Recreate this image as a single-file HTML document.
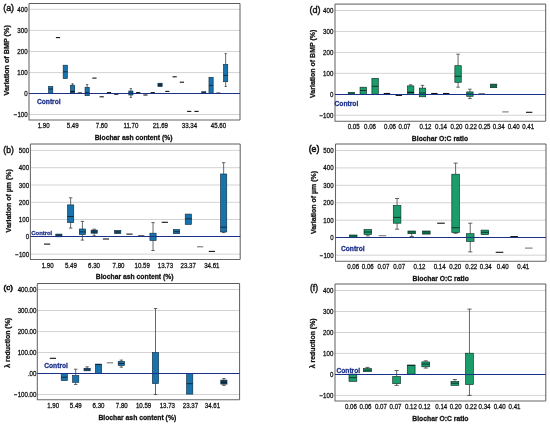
<!DOCTYPE html>
<html lang="en">
<head>
<meta charset="utf-8">
<title>Biochar box plots</title>
<style>
html,body{margin:0;padding:0;background:#fff;}
body{width:550px;height:425px;overflow:hidden;}
svg{display:block;font-family:"Liberation Sans", Arial, sans-serif;}
svg text{stroke-width:0.26px;paint-order:stroke fill;}
svg text.k{stroke:#111;}
svg text.c{stroke:#1b3089;}
</style>
</head>
<body>
<svg width="550" height="425" viewBox="0 0 550 425">
<rect x="0" y="0" width="550" height="425" fill="#fff"/>
<rect x="29" y="3.5" width="211" height="116.5" fill="#fff"/>
<line x1="29" y1="9.3" x2="240" y2="9.3" stroke="#c4c4c4" stroke-width="0.75"/>
<line x1="29" y1="30.4" x2="240" y2="30.4" stroke="#c4c4c4" stroke-width="0.75"/>
<line x1="29" y1="51.5" x2="240" y2="51.5" stroke="#c4c4c4" stroke-width="0.75"/>
<line x1="29" y1="72.6" x2="240" y2="72.6" stroke="#c4c4c4" stroke-width="0.75"/>
<line x1="29" y1="114.5" x2="240" y2="114.5" stroke="#c4c4c4" stroke-width="0.75"/>
<path d="M29 3.5H240V120" fill="none" stroke="#4a4a4a" stroke-width="0.9"/>
<path d="M29 3.5V120H240" fill="none" stroke="#666" stroke-width="1.05"/>
<rect x="48.59" y="86.5" width="4.2" height="7" fill="#1873ad" stroke="#0f2e45" stroke-width="0.65"/>
<line x1="48.59" y1="89" x2="52.79" y2="89" stroke="#0c1a22" stroke-width="0.8"/>
<line x1="55.88" y1="37.6" x2="60.08" y2="37.6" stroke="#111" stroke-width="1.1"/>
<rect x="63.17" y="65.2" width="4.2" height="13.3" fill="#1873ad" stroke="#0f2e45" stroke-width="0.65"/>
<line x1="63.17" y1="71.8" x2="67.37" y2="71.8" stroke="#0c1a22" stroke-width="0.8"/>
<path d="M72.56 85.2V83.8M71.41 83.8H73.72" stroke="#2a2a2a" stroke-width="0.7" fill="none"/>
<rect x="70.46" y="85.2" width="4.2" height="7.6" fill="#1873ad" stroke="#0f2e45" stroke-width="0.65"/>
<line x1="70.46" y1="91.6" x2="74.66" y2="91.6" stroke="#0c1a22" stroke-width="1.4"/>
<line x1="77.75" y1="93" x2="81.95" y2="93" stroke="#111" stroke-width="1.2"/>
<path d="M87.14 87.3V84.6M85.98 84.6H88.3" stroke="#2a2a2a" stroke-width="0.7" fill="none"/>
<rect x="85.04" y="87.3" width="4.2" height="8.4" fill="#1873ad" stroke="#0f2e45" stroke-width="0.65"/>
<line x1="85.04" y1="92.6" x2="89.24" y2="92.6" stroke="#0c1a22" stroke-width="0.8"/>
<line x1="92.33" y1="78.1" x2="96.53" y2="78.1" stroke="#111" stroke-width="1.1"/>
<line x1="99.62" y1="96.8" x2="103.82" y2="96.8" stroke="#111" stroke-width="1.1"/>
<line x1="106.91" y1="92.6" x2="111.11" y2="92.6" stroke="#111" stroke-width="1.1"/>
<line x1="114.2" y1="94.2" x2="118.4" y2="94.2" stroke="#111" stroke-width="1.2"/>
<path d="M130.88 91V88.6M129.72 88.6H132.03" stroke="#2a2a2a" stroke-width="0.7" fill="none"/>
<path d="M130.88 95V97.4M129.72 97.4H132.03" stroke="#2a2a2a" stroke-width="0.7" fill="none"/>
<rect x="128.78" y="91" width="4.2" height="4" fill="#1873ad" stroke="#0f2e45" stroke-width="0.65"/>
<line x1="128.78" y1="93" x2="132.98" y2="93" stroke="#0c1a22" stroke-width="0.8"/>
<line x1="136.07" y1="92.6" x2="140.27" y2="92.6" stroke="#111" stroke-width="1.1"/>
<line x1="143.36" y1="95" x2="147.56" y2="95" stroke="#111" stroke-width="1.1"/>
<line x1="150.65" y1="92.6" x2="154.85" y2="92.6" stroke="#111" stroke-width="1.1"/>
<rect x="157.94" y="83.2" width="4.2" height="3.3" fill="#123e5c" stroke="#0f2e45" stroke-width="0.65"/>
<line x1="157.94" y1="85" x2="162.14" y2="85" stroke="#0c1a22" stroke-width="0.8"/>
<line x1="165.23" y1="91.4" x2="169.43" y2="91.4" stroke="#111" stroke-width="1.1"/>
<line x1="172.52" y1="76.8" x2="176.72" y2="76.8" stroke="#111" stroke-width="1.1"/>
<line x1="179.81" y1="82.2" x2="184.01" y2="82.2" stroke="#111" stroke-width="1.1"/>
<line x1="187.1" y1="111.4" x2="191.3" y2="111.4" stroke="#111" stroke-width="1.1"/>
<line x1="194.39" y1="111.4" x2="198.59" y2="111.4" stroke="#111" stroke-width="1.1"/>
<rect x="201.68" y="91.7" width="4.2" height="1.5" fill="#123e5c" stroke="#0f2e45" stroke-width="0.65"/>
<rect x="208.97" y="77.4" width="4.2" height="16.1" fill="#1873ad" stroke="#0f2e45" stroke-width="0.65"/>
<line x1="208.97" y1="85.4" x2="213.17" y2="85.4" stroke="#0c1a22" stroke-width="0.8"/>
<line x1="216.26" y1="92.8" x2="220.46" y2="92.8" stroke="#777" stroke-width="1.1"/>
<path d="M225.65 64.5V53.6M224.5 53.6H226.81" stroke="#2a2a2a" stroke-width="0.7" fill="none"/>
<path d="M225.65 81.7V86.5M224.5 86.5H226.81" stroke="#2a2a2a" stroke-width="0.7" fill="none"/>
<rect x="223.55" y="64.5" width="4.2" height="17.2" fill="#1873ad" stroke="#0f2e45" stroke-width="0.65"/>
<line x1="223.55" y1="75.4" x2="227.75" y2="75.4" stroke="#0c1a22" stroke-width="0.8"/>
<line x1="29" y1="93.5" x2="240" y2="93.5" stroke="#1b3089" stroke-width="1.2"/>
<text x="36.9" y="101.9" font-size="6.7" font-weight="bold" class="c" fill="#1b3089" dominant-baseline="central">Control</text>
<text transform="translate(27.6 9.3) scale(.93 1)" font-size="6.6" text-anchor="end" dominant-baseline="central" class="k" fill="#111">400</text>
<text transform="translate(27.6 30.4) scale(.93 1)" font-size="6.6" text-anchor="end" dominant-baseline="central" class="k" fill="#111">300</text>
<text transform="translate(27.6 51.5) scale(.93 1)" font-size="6.6" text-anchor="end" dominant-baseline="central" class="k" fill="#111">200</text>
<text transform="translate(27.6 72.6) scale(.93 1)" font-size="6.6" text-anchor="end" dominant-baseline="central" class="k" fill="#111">100</text>
<text transform="translate(27.6 93.5) scale(.93 1)" font-size="6.6" text-anchor="end" dominant-baseline="central" class="k" fill="#111">0</text>
<text transform="translate(27.6 114.5) scale(.93 1)" font-size="6.6" text-anchor="end" dominant-baseline="central" class="k" fill="#111">−100</text>
<text transform="translate(43.6 125.7) scale(.93 1)" font-size="6.6" text-anchor="middle" dominant-baseline="central" class="k" fill="#111">1.90</text>
<text transform="translate(72.7 125.7) scale(.93 1)" font-size="6.6" text-anchor="middle" dominant-baseline="central" class="k" fill="#111">5.49</text>
<text transform="translate(101.7 125.7) scale(.93 1)" font-size="6.6" text-anchor="middle" dominant-baseline="central" class="k" fill="#111">7.60</text>
<text transform="translate(130.9 125.7) scale(.93 1)" font-size="6.6" text-anchor="middle" dominant-baseline="central" class="k" fill="#111">11.70</text>
<text transform="translate(160.3 125.7) scale(.93 1)" font-size="6.6" text-anchor="middle" dominant-baseline="central" class="k" fill="#111">21.69</text>
<text transform="translate(189.5 125.7) scale(.93 1)" font-size="6.6" text-anchor="middle" dominant-baseline="central" class="k" fill="#111">33.34</text>
<text transform="translate(218.5 125.7) scale(.93 1)" font-size="6.6" text-anchor="middle" dominant-baseline="central" class="k" fill="#111">45.60</text>
<text x="133.6" y="137.7" font-size="6.8" font-weight="bold" text-anchor="middle" dominant-baseline="central" class="k" fill="#111">Biochar ash content (%)</text>
<text transform="translate(6.2 60.3) rotate(-90)" font-size="7.2" font-weight="bold" text-anchor="middle" dominant-baseline="central" class="k" fill="#111">Variation of BMP (%)</text>
<text x="3.2" y="8.2" font-size="8.9" dominant-baseline="central" class="k" style="stroke-width:0.4px" fill="#111">(a)</text>
<rect x="30.4" y="144" width="209.8" height="115.4" fill="#fff"/>
<line x1="30.4" y1="150.4" x2="240.2" y2="150.4" stroke="#c4c4c4" stroke-width="0.75"/>
<line x1="30.4" y1="167.7" x2="240.2" y2="167.7" stroke="#c4c4c4" stroke-width="0.75"/>
<line x1="30.4" y1="185" x2="240.2" y2="185" stroke="#c4c4c4" stroke-width="0.75"/>
<line x1="30.4" y1="202.3" x2="240.2" y2="202.3" stroke="#c4c4c4" stroke-width="0.75"/>
<line x1="30.4" y1="219.5" x2="240.2" y2="219.5" stroke="#c4c4c4" stroke-width="0.75"/>
<line x1="30.4" y1="254.1" x2="240.2" y2="254.1" stroke="#c4c4c4" stroke-width="0.75"/>
<path d="M30.4 144H240.2V259.4" fill="none" stroke="#4a4a4a" stroke-width="0.9"/>
<path d="M30.4 144V259.4H240.2" fill="none" stroke="#666" stroke-width="1.05"/>
<line x1="44" y1="244.1" x2="50.2" y2="244.1" stroke="#111" stroke-width="1.1"/>
<rect x="55.77" y="234.1" width="6.2" height="2.7" fill="#123e5c" stroke="#0f2e45" stroke-width="0.65"/>
<path d="M70.64 204.9V197.8M68.94 197.8H72.34" stroke="#2a2a2a" stroke-width="0.7" fill="none"/>
<path d="M70.64 222.6V228.1M68.94 228.1H72.34" stroke="#2a2a2a" stroke-width="0.7" fill="none"/>
<rect x="67.54" y="204.9" width="6.2" height="17.7" fill="#1873ad" stroke="#0f2e45" stroke-width="0.65"/>
<line x1="67.54" y1="216.5" x2="73.74" y2="216.5" stroke="#0c1a22" stroke-width="0.8"/>
<path d="M82.41 229V221.4M80.7 221.4H84.11" stroke="#2a2a2a" stroke-width="0.7" fill="none"/>
<path d="M82.41 234.6V240.1M80.7 240.1H84.11" stroke="#2a2a2a" stroke-width="0.7" fill="none"/>
<rect x="79.31" y="229" width="6.2" height="5.6" fill="#1873ad" stroke="#0f2e45" stroke-width="0.65"/>
<line x1="79.31" y1="231.9" x2="85.51" y2="231.9" stroke="#0c1a22" stroke-width="0.8"/>
<path d="M94.18 230.1V229.2M92.48 229.2H95.89" stroke="#2a2a2a" stroke-width="0.7" fill="none"/>
<path d="M94.18 233.2V235.9M92.48 235.9H95.89" stroke="#2a2a2a" stroke-width="0.7" fill="none"/>
<rect x="91.08" y="230.1" width="6.2" height="3.1" fill="#123e5c" stroke="#0f2e45" stroke-width="0.65"/>
<line x1="102.85" y1="239" x2="109.05" y2="239" stroke="#111" stroke-width="1.1"/>
<rect x="114.62" y="230.5" width="6.2" height="3" fill="#123e5c" stroke="#0f2e45" stroke-width="0.65"/>
<line x1="126.39" y1="234.1" x2="132.59" y2="234.1" stroke="#111" stroke-width="1.1"/>
<line x1="138.16" y1="235.9" x2="144.36" y2="235.9" stroke="#111" stroke-width="1.1"/>
<path d="M153.03 233.2V222.6M151.32 222.6H154.74" stroke="#2a2a2a" stroke-width="0.7" fill="none"/>
<path d="M153.03 240.5V250.5M151.32 250.5H154.74" stroke="#2a2a2a" stroke-width="0.7" fill="none"/>
<rect x="149.93" y="233.2" width="6.2" height="7.3" fill="#1873ad" stroke="#0f2e45" stroke-width="0.65"/>
<line x1="161.7" y1="222.3" x2="167.9" y2="222.3" stroke="#111" stroke-width="1.1"/>
<rect x="173.47" y="229.5" width="6.2" height="4.2" fill="#1873ad" stroke="#0f2e45" stroke-width="0.65"/>
<line x1="173.47" y1="231.7" x2="179.67" y2="231.7" stroke="#0c1a22" stroke-width="0.8"/>
<rect x="185.24" y="214.1" width="6.2" height="10.3" fill="#1873ad" stroke="#0f2e45" stroke-width="0.65"/>
<line x1="185.24" y1="218.8" x2="191.44" y2="218.8" stroke="#0c1a22" stroke-width="0.8"/>
<line x1="197.01" y1="246.8" x2="203.21" y2="246.8" stroke="#777" stroke-width="1.1"/>
<line x1="208.78" y1="251.4" x2="214.98" y2="251.4" stroke="#111" stroke-width="1.1"/>
<path d="M223.65 174V162.7M221.94 162.7H225.35" stroke="#2a2a2a" stroke-width="0.7" fill="none"/>
<path d="M223.65 231.9V232.6M221.94 232.6H225.35" stroke="#2a2a2a" stroke-width="0.7" fill="none"/>
<rect x="220.55" y="174" width="6.2" height="57.9" fill="#1873ad" stroke="#0f2e45" stroke-width="0.65"/>
<line x1="220.55" y1="227.2" x2="226.75" y2="227.2" stroke="#0c1a22" stroke-width="0.8"/>
<line x1="30.4" y1="236.5" x2="240.2" y2="236.5" stroke="#1b3089" stroke-width="1.2"/>
<text x="31.3" y="232.8" font-size="5.9" font-weight="bold" class="c" fill="#1b3089" dominant-baseline="central">Control</text>
<text transform="translate(29.1 150.4) scale(.93 1)" font-size="6.6" text-anchor="end" dominant-baseline="central" class="k" fill="#111">500</text>
<text transform="translate(29.1 167.7) scale(.93 1)" font-size="6.6" text-anchor="end" dominant-baseline="central" class="k" fill="#111">400</text>
<text transform="translate(29.1 185) scale(.93 1)" font-size="6.6" text-anchor="end" dominant-baseline="central" class="k" fill="#111">300</text>
<text transform="translate(29.1 202.3) scale(.93 1)" font-size="6.6" text-anchor="end" dominant-baseline="central" class="k" fill="#111">200</text>
<text transform="translate(29.1 219.5) scale(.93 1)" font-size="6.6" text-anchor="end" dominant-baseline="central" class="k" fill="#111">100</text>
<text transform="translate(29.1 236.8) scale(.93 1)" font-size="6.6" text-anchor="end" dominant-baseline="central" class="k" fill="#111">0</text>
<text transform="translate(29.1 254.1) scale(.93 1)" font-size="6.6" text-anchor="end" dominant-baseline="central" class="k" fill="#111">−100</text>
<text transform="translate(47.6 265.2) scale(.93 1)" font-size="6.6" text-anchor="middle" dominant-baseline="central" class="k" fill="#111">1.90</text>
<text transform="translate(70.9 265.2) scale(.93 1)" font-size="6.6" text-anchor="middle" dominant-baseline="central" class="k" fill="#111">5.49</text>
<text transform="translate(94 265.2) scale(.93 1)" font-size="6.6" text-anchor="middle" dominant-baseline="central" class="k" fill="#111">6.30</text>
<text transform="translate(118.5 265.2) scale(.93 1)" font-size="6.6" text-anchor="middle" dominant-baseline="central" class="k" fill="#111">7.80</text>
<text transform="translate(142.2 265.2) scale(.93 1)" font-size="6.6" text-anchor="middle" dominant-baseline="central" class="k" fill="#111">10.59</text>
<text transform="translate(165.5 265.2) scale(.93 1)" font-size="6.6" text-anchor="middle" dominant-baseline="central" class="k" fill="#111">13.73</text>
<text transform="translate(188.2 265.2) scale(.93 1)" font-size="6.6" text-anchor="middle" dominant-baseline="central" class="k" fill="#111">23.37</text>
<text transform="translate(211.8 265.2) scale(.93 1)" font-size="6.6" text-anchor="middle" dominant-baseline="central" class="k" fill="#111">34.61</text>
<text x="134.7" y="276.8" font-size="6.8" font-weight="bold" text-anchor="middle" dominant-baseline="central" class="k" fill="#111">Biochar ash content (%)</text>
<text transform="translate(8 200.8) rotate(-90)" font-size="7" font-weight="bold" text-anchor="middle" dominant-baseline="central" class="k" fill="#111">Variation of µm (%)</text>
<text x="3.3" y="150.3" font-size="8.6" dominant-baseline="central" class="k" style="stroke-width:0.4px" fill="#111">(b)</text>
<rect x="37.3" y="283.5" width="202.3" height="116.3" fill="#fff"/>
<line x1="37.3" y1="289.5" x2="239.6" y2="289.5" stroke="#c4c4c4" stroke-width="0.75"/>
<line x1="37.3" y1="310.5" x2="239.6" y2="310.5" stroke="#c4c4c4" stroke-width="0.75"/>
<line x1="37.3" y1="331.6" x2="239.6" y2="331.6" stroke="#c4c4c4" stroke-width="0.75"/>
<line x1="37.3" y1="352.5" x2="239.6" y2="352.5" stroke="#c4c4c4" stroke-width="0.75"/>
<line x1="37.3" y1="394.5" x2="239.6" y2="394.5" stroke="#c4c4c4" stroke-width="0.75"/>
<path d="M37.3 283.5H239.6V399.8" fill="none" stroke="#4a4a4a" stroke-width="0.9"/>
<path d="M37.3 283.5V399.8H239.6" fill="none" stroke="#666" stroke-width="1.05"/>
<line x1="49.8" y1="358.3" x2="56" y2="358.3" stroke="#111" stroke-width="1.1"/>
<rect x="61.2" y="373.5" width="6.2" height="7" fill="#1873ad" stroke="#0f2e45" stroke-width="0.65"/>
<line x1="61.2" y1="377.2" x2="67.4" y2="377.2" stroke="#0c1a22" stroke-width="0.8"/>
<path d="M75.7 375.5V369.2M74 369.2H77.41" stroke="#2a2a2a" stroke-width="0.7" fill="none"/>
<path d="M75.7 382.3V384.5M74 384.5H77.41" stroke="#2a2a2a" stroke-width="0.7" fill="none"/>
<rect x="72.6" y="375.5" width="6.2" height="6.8" fill="#1873ad" stroke="#0f2e45" stroke-width="0.65"/>
<path d="M87.1 368.3V366.8M85.39 366.8H88.8" stroke="#2a2a2a" stroke-width="0.7" fill="none"/>
<rect x="84" y="368.3" width="6.2" height="2.5" fill="#123e5c" stroke="#0f2e45" stroke-width="0.65"/>
<rect x="95.4" y="364.1" width="6.2" height="9.4" fill="#1873ad" stroke="#0f2e45" stroke-width="0.65"/>
<line x1="95.4" y1="364.6" x2="101.6" y2="364.6" stroke="#0c1a22" stroke-width="0.8"/>
<line x1="106.8" y1="362.8" x2="113" y2="362.8" stroke="#777" stroke-width="1.1"/>
<path d="M121.3 361.4V360.1M119.6 360.1H123.01" stroke="#2a2a2a" stroke-width="0.7" fill="none"/>
<path d="M121.3 365.5V367.2M119.6 367.2H123.01" stroke="#2a2a2a" stroke-width="0.7" fill="none"/>
<rect x="118.2" y="361.4" width="6.2" height="4.1" fill="#1873ad" stroke="#0f2e45" stroke-width="0.65"/>
<line x1="118.2" y1="363.5" x2="124.4" y2="363.5" stroke="#0c1a22" stroke-width="0.8"/>
<path d="M155.5 352.6V308.5M153.79 308.5H157.21" stroke="#2a2a2a" stroke-width="0.7" fill="none"/>
<path d="M155.5 383.5V394.5M153.79 394.5H157.21" stroke="#2a2a2a" stroke-width="0.7" fill="none"/>
<rect x="152.4" y="352.6" width="6.2" height="30.9" fill="#1873ad" stroke="#0f2e45" stroke-width="0.65"/>
<rect x="186.6" y="373.5" width="6.2" height="20.6" fill="#1873ad" stroke="#0f2e45" stroke-width="0.65"/>
<line x1="186.6" y1="383.7" x2="192.8" y2="383.7" stroke="#0c1a22" stroke-width="0.8"/>
<path d="M223.9 380.1V378.6M222.19 378.6H225.61" stroke="#2a2a2a" stroke-width="0.7" fill="none"/>
<path d="M223.9 384.1V385.4M222.19 385.4H225.61" stroke="#2a2a2a" stroke-width="0.7" fill="none"/>
<rect x="220.8" y="380.1" width="6.2" height="4" fill="#123e5c" stroke="#0f2e45" stroke-width="0.65"/>
<line x1="220.8" y1="382.3" x2="227" y2="382.3" stroke="#0c1a22" stroke-width="0.8"/>
<line x1="37.3" y1="373.5" x2="239.6" y2="373.5" stroke="#1b3089" stroke-width="1.2"/>
<text x="44.2" y="365.4" font-size="6.7" font-weight="bold" class="c" fill="#1b3089" dominant-baseline="central">Control</text>
<text transform="translate(36.4 289.5) scale(.93 1)" font-size="6.6" text-anchor="end" dominant-baseline="central" class="k" fill="#111">400.00</text>
<text transform="translate(36.4 310.5) scale(.93 1)" font-size="6.6" text-anchor="end" dominant-baseline="central" class="k" fill="#111">300.00</text>
<text transform="translate(36.4 331.6) scale(.93 1)" font-size="6.6" text-anchor="end" dominant-baseline="central" class="k" fill="#111">200.00</text>
<text transform="translate(36.4 352.5) scale(.93 1)" font-size="6.6" text-anchor="end" dominant-baseline="central" class="k" fill="#111">100.00</text>
<text transform="translate(36.4 373.5) scale(.93 1)" font-size="6.6" text-anchor="end" dominant-baseline="central" class="k" fill="#111">.00</text>
<text transform="translate(36.4 394.5) scale(.93 1)" font-size="6.6" text-anchor="end" dominant-baseline="central" class="k" fill="#111">−100.00</text>
<text transform="translate(53.1 405.7) scale(.93 1)" font-size="6.6" text-anchor="middle" dominant-baseline="central" class="k" fill="#111">1.90</text>
<text transform="translate(75.8 405.7) scale(.93 1)" font-size="6.6" text-anchor="middle" dominant-baseline="central" class="k" fill="#111">5.49</text>
<text transform="translate(98.5 405.7) scale(.93 1)" font-size="6.6" text-anchor="middle" dominant-baseline="central" class="k" fill="#111">6.30</text>
<text transform="translate(121.8 405.7) scale(.93 1)" font-size="6.6" text-anchor="middle" dominant-baseline="central" class="k" fill="#111">7.80</text>
<text transform="translate(143.6 405.7) scale(.93 1)" font-size="6.6" text-anchor="middle" dominant-baseline="central" class="k" fill="#111">10.59</text>
<text transform="translate(167.3 405.7) scale(.93 1)" font-size="6.6" text-anchor="middle" dominant-baseline="central" class="k" fill="#111">13.73</text>
<text transform="translate(190.4 405.7) scale(.93 1)" font-size="6.6" text-anchor="middle" dominant-baseline="central" class="k" fill="#111">23.37</text>
<text transform="translate(212.4 405.7) scale(.93 1)" font-size="6.6" text-anchor="middle" dominant-baseline="central" class="k" fill="#111">34.61</text>
<text x="137.3" y="417.7" font-size="6.8" font-weight="bold" text-anchor="middle" dominant-baseline="central" class="k" fill="#111">Biochar ash content (%)</text>
<text transform="translate(7.7 342.8) rotate(-90)" font-size="6.9" font-weight="bold" text-anchor="middle" dominant-baseline="central" class="k" fill="#111">λ reduction (%)</text>
<text x="3.6" y="287.2" font-size="8.0" dominant-baseline="central" class="k" style="stroke-width:0.6px" fill="#111">(c)</text>
<rect x="335" y="4.1" width="210.7" height="117.1" fill="#fff"/>
<line x1="335" y1="10.5" x2="545.7" y2="10.5" stroke="#c4c4c4" stroke-width="0.75"/>
<line x1="335" y1="31.45" x2="545.7" y2="31.45" stroke="#c4c4c4" stroke-width="0.75"/>
<line x1="335" y1="52.4" x2="545.7" y2="52.4" stroke="#c4c4c4" stroke-width="0.75"/>
<line x1="335" y1="73.35" x2="545.7" y2="73.35" stroke="#c4c4c4" stroke-width="0.75"/>
<line x1="335" y1="115.25" x2="545.7" y2="115.25" stroke="#c4c4c4" stroke-width="0.75"/>
<path d="M335 4.1H545.7V121.2" fill="none" stroke="#4a4a4a" stroke-width="0.9"/>
<path d="M335 4.1V121.2H545.7" fill="none" stroke="#666" stroke-width="1.05"/>
<rect x="348.2" y="92.3" width="6.4" height="1.9" fill="#116a48" stroke="#0c3023" stroke-width="0.65"/>
<rect x="360.05" y="87.2" width="6.4" height="7" fill="#1a9c6b" stroke="#0c3023" stroke-width="0.65"/>
<line x1="360.05" y1="90.5" x2="366.45" y2="90.5" stroke="#0c1a22" stroke-width="0.8"/>
<rect x="371.9" y="78.3" width="6.4" height="15.9" fill="#1a9c6b" stroke="#0c3023" stroke-width="0.65"/>
<line x1="371.9" y1="86.3" x2="378.3" y2="86.3" stroke="#0c1a22" stroke-width="0.8"/>
<line x1="383.75" y1="93.5" x2="390.15" y2="93.5" stroke="#111" stroke-width="1.1"/>
<line x1="395.6" y1="95.4" x2="402" y2="95.4" stroke="#111" stroke-width="1.1"/>
<path d="M410.65 85.9V84.8M408.89 84.8H412.41" stroke="#2a2a2a" stroke-width="0.7" fill="none"/>
<rect x="407.45" y="85.9" width="6.4" height="8.3" fill="#1a9c6b" stroke="#0c3023" stroke-width="0.65"/>
<line x1="407.45" y1="92.4" x2="413.85" y2="92.4" stroke="#0c1a22" stroke-width="1.3"/>
<path d="M422.5 88.1V85.4M420.74 85.4H424.26" stroke="#2a2a2a" stroke-width="0.7" fill="none"/>
<rect x="419.3" y="88.1" width="6.4" height="8.7" fill="#1a9c6b" stroke="#0c3023" stroke-width="0.65"/>
<line x1="419.3" y1="93" x2="425.7" y2="93" stroke="#0c1a22" stroke-width="0.8"/>
<line x1="431.15" y1="93.5" x2="437.55" y2="93.5" stroke="#111" stroke-width="1.1"/>
<line x1="443" y1="93.5" x2="449.4" y2="93.5" stroke="#111" stroke-width="1.1"/>
<path d="M458.05 65.7V54.2M456.29 54.2H459.81" stroke="#2a2a2a" stroke-width="0.7" fill="none"/>
<path d="M458.05 82.3V87.2M456.29 87.2H459.81" stroke="#2a2a2a" stroke-width="0.7" fill="none"/>
<rect x="454.85" y="65.7" width="6.4" height="16.6" fill="#1a9c6b" stroke="#0c3023" stroke-width="0.65"/>
<line x1="454.85" y1="76.3" x2="461.25" y2="76.3" stroke="#0c1a22" stroke-width="0.8"/>
<path d="M469.9 91.9V89.2M468.14 89.2H471.66" stroke="#2a2a2a" stroke-width="0.7" fill="none"/>
<path d="M469.9 96.3V98.6M468.14 98.6H471.66" stroke="#2a2a2a" stroke-width="0.7" fill="none"/>
<rect x="466.7" y="91.9" width="6.4" height="4.4" fill="#1a9c6b" stroke="#0c3023" stroke-width="0.65"/>
<line x1="466.7" y1="94" x2="473.1" y2="94" stroke="#0c1a22" stroke-width="0.8"/>
<line x1="478.55" y1="93.5" x2="484.95" y2="93.5" stroke="#444" stroke-width="0.7"/>
<rect x="490.4" y="84.1" width="6.4" height="3.6" fill="#116a48" stroke="#0c3023" stroke-width="0.65"/>
<line x1="502.25" y1="111.9" x2="508.65" y2="111.9" stroke="#777" stroke-width="1.1"/>
<line x1="525.95" y1="112.3" x2="532.35" y2="112.3" stroke="#111" stroke-width="1.1"/>
<line x1="335" y1="94.5" x2="545.7" y2="94.5" stroke="#1b3089" stroke-width="1.2"/>
<text x="334.5" y="103.7" font-size="6.7" font-weight="bold" class="c" fill="#1b3089" dominant-baseline="central">Control</text>
<text transform="translate(333.3 10.5) scale(.93 1)" font-size="6.6" text-anchor="end" dominant-baseline="central" class="k" fill="#111">400</text>
<text transform="translate(333.3 31.45) scale(.93 1)" font-size="6.6" text-anchor="end" dominant-baseline="central" class="k" fill="#111">300</text>
<text transform="translate(333.3 52.4) scale(.93 1)" font-size="6.6" text-anchor="end" dominant-baseline="central" class="k" fill="#111">200</text>
<text transform="translate(333.3 73.35) scale(.93 1)" font-size="6.6" text-anchor="end" dominant-baseline="central" class="k" fill="#111">100</text>
<text transform="translate(333.3 94.3) scale(.93 1)" font-size="6.6" text-anchor="end" dominant-baseline="central" class="k" fill="#111">0</text>
<text transform="translate(333.3 115.25) scale(.93 1)" font-size="6.6" text-anchor="end" dominant-baseline="central" class="k" fill="#111">−100</text>
<text transform="translate(353.6 126.4) scale(.93 1)" font-size="6.6" text-anchor="middle" dominant-baseline="central" class="k" fill="#111">0.05</text>
<text transform="translate(370 126.4) scale(.93 1)" font-size="6.6" text-anchor="middle" dominant-baseline="central" class="k" fill="#111">0.06</text>
<text transform="translate(390 126.4) scale(.93 1)" font-size="6.6" text-anchor="middle" dominant-baseline="central" class="k" fill="#111">0.06</text>
<text transform="translate(404.5 126.4) scale(.93 1)" font-size="6.6" text-anchor="middle" dominant-baseline="central" class="k" fill="#111">0.07</text>
<text transform="translate(425.5 126.4) scale(.93 1)" font-size="6.6" text-anchor="middle" dominant-baseline="central" class="k" fill="#111">0.12</text>
<text transform="translate(441 126.4) scale(.93 1)" font-size="6.6" text-anchor="middle" dominant-baseline="central" class="k" fill="#111">0.14</text>
<text transform="translate(456.5 126.4) scale(.93 1)" font-size="6.6" text-anchor="middle" dominant-baseline="central" class="k" fill="#111">0.20</text>
<text transform="translate(470.9 126.4) scale(.93 1)" font-size="6.6" text-anchor="middle" dominant-baseline="central" class="k" fill="#111">0.22</text>
<text transform="translate(484.5 126.4) scale(.93 1)" font-size="6.6" text-anchor="middle" dominant-baseline="central" class="k" fill="#111">0.25</text>
<text transform="translate(498.7 126.4) scale(.93 1)" font-size="6.6" text-anchor="middle" dominant-baseline="central" class="k" fill="#111">0.34</text>
<text transform="translate(513.6 126.4) scale(.93 1)" font-size="6.6" text-anchor="middle" dominant-baseline="central" class="k" fill="#111">0.40</text>
<text transform="translate(528.2 126.4) scale(.93 1)" font-size="6.6" text-anchor="middle" dominant-baseline="central" class="k" fill="#111">0.41</text>
<text x="440" y="138.3" font-size="6.8" font-weight="bold" text-anchor="middle" dominant-baseline="central" class="k" fill="#111">Biochar O:C ratio</text>
<text transform="translate(312.3 63.8) rotate(-90)" font-size="7" font-weight="bold" text-anchor="middle" dominant-baseline="central" class="k" fill="#111">Variation of BMP (%)</text>
<text x="309.4" y="10.3" font-size="9.1" dominant-baseline="central" class="k" style="stroke-width:0.4px" fill="#111">(d)</text>
<rect x="335.5" y="144" width="210.5" height="117.2" fill="#fff"/>
<line x1="335.5" y1="150.5" x2="546" y2="150.5" stroke="#c4c4c4" stroke-width="0.75"/>
<line x1="335.5" y1="167.9" x2="546" y2="167.9" stroke="#c4c4c4" stroke-width="0.75"/>
<line x1="335.5" y1="185.3" x2="546" y2="185.3" stroke="#c4c4c4" stroke-width="0.75"/>
<line x1="335.5" y1="202.8" x2="546" y2="202.8" stroke="#c4c4c4" stroke-width="0.75"/>
<line x1="335.5" y1="220.2" x2="546" y2="220.2" stroke="#c4c4c4" stroke-width="0.75"/>
<line x1="335.5" y1="255.2" x2="546" y2="255.2" stroke="#c4c4c4" stroke-width="0.75"/>
<path d="M335.5 144H546V261.2" fill="none" stroke="#4a4a4a" stroke-width="0.9"/>
<path d="M335.5 144V261.2H546" fill="none" stroke="#666" stroke-width="1.05"/>
<rect x="349.4" y="235" width="7.6" height="2.7" fill="#116a48" stroke="#0c3023" stroke-width="0.65"/>
<path d="M367.83 234.5V235.9M365.74 235.9H369.92" stroke="#2a2a2a" stroke-width="0.7" fill="none"/>
<rect x="364.03" y="229.5" width="7.6" height="5" fill="#1a9c6b" stroke="#0c3023" stroke-width="0.65"/>
<line x1="364.03" y1="232" x2="371.63" y2="232" stroke="#0c1a22" stroke-width="0.8"/>
<line x1="378.66" y1="235.7" x2="386.26" y2="235.7" stroke="#777" stroke-width="1.1"/>
<path d="M397.09 205.5V198.5M395 198.5H399.18" stroke="#2a2a2a" stroke-width="0.7" fill="none"/>
<path d="M397.09 223.2V229.2M395 229.2H399.18" stroke="#2a2a2a" stroke-width="0.7" fill="none"/>
<rect x="393.29" y="205.5" width="7.6" height="17.7" fill="#1a9c6b" stroke="#0c3023" stroke-width="0.65"/>
<line x1="393.29" y1="217.4" x2="400.89" y2="217.4" stroke="#0c1a22" stroke-width="0.8"/>
<path d="M411.72 233.7V236.5M409.63 236.5H413.81" stroke="#2a2a2a" stroke-width="0.7" fill="none"/>
<rect x="407.92" y="231" width="7.6" height="2.7" fill="#116a48" stroke="#0c3023" stroke-width="0.65"/>
<rect x="422.55" y="231" width="7.6" height="3.1" fill="#116a48" stroke="#0c3023" stroke-width="0.65"/>
<line x1="437.18" y1="223.2" x2="444.78" y2="223.2" stroke="#111" stroke-width="1.1"/>
<path d="M455.61 174.2V163.1M453.52 163.1H457.7" stroke="#2a2a2a" stroke-width="0.7" fill="none"/>
<path d="M455.61 232.6V233.3M453.52 233.3H457.7" stroke="#2a2a2a" stroke-width="0.7" fill="none"/>
<rect x="451.81" y="174.2" width="7.6" height="58.4" fill="#1a9c6b" stroke="#0c3023" stroke-width="0.65"/>
<line x1="451.81" y1="227.7" x2="459.41" y2="227.7" stroke="#0c1a22" stroke-width="0.8"/>
<path d="M470.24 233.7V223.2M468.15 223.2H472.33" stroke="#2a2a2a" stroke-width="0.7" fill="none"/>
<path d="M470.24 241.4V251.9M468.15 251.9H472.33" stroke="#2a2a2a" stroke-width="0.7" fill="none"/>
<rect x="466.44" y="233.7" width="7.6" height="7.7" fill="#1a9c6b" stroke="#0c3023" stroke-width="0.65"/>
<rect x="481.07" y="230.1" width="7.6" height="4.5" fill="#1a9c6b" stroke="#0c3023" stroke-width="0.65"/>
<line x1="481.07" y1="232.3" x2="488.67" y2="232.3" stroke="#0c1a22" stroke-width="0.8"/>
<line x1="495.7" y1="252.3" x2="503.3" y2="252.3" stroke="#111" stroke-width="1.1"/>
<line x1="510.33" y1="236.6" x2="517.93" y2="236.6" stroke="#111" stroke-width="1.1"/>
<line x1="524.96" y1="248.1" x2="532.56" y2="248.1" stroke="#777" stroke-width="1.1"/>
<line x1="335.5" y1="237.5" x2="546" y2="237.5" stroke="#1b3089" stroke-width="1.2"/>
<text x="340.9" y="248.3" font-size="6.7" font-weight="bold" class="c" fill="#1b3089" dominant-baseline="central">Control</text>
<text transform="translate(333.6 150.5) scale(.93 1)" font-size="6.6" text-anchor="end" dominant-baseline="central" class="k" fill="#111">500</text>
<text transform="translate(333.6 167.9) scale(.93 1)" font-size="6.6" text-anchor="end" dominant-baseline="central" class="k" fill="#111">400</text>
<text transform="translate(333.6 185.3) scale(.93 1)" font-size="6.6" text-anchor="end" dominant-baseline="central" class="k" fill="#111">300</text>
<text transform="translate(333.6 202.8) scale(.93 1)" font-size="6.6" text-anchor="end" dominant-baseline="central" class="k" fill="#111">200</text>
<text transform="translate(333.6 220.2) scale(.93 1)" font-size="6.6" text-anchor="end" dominant-baseline="central" class="k" fill="#111">100</text>
<text transform="translate(333.6 237.7) scale(.93 1)" font-size="6.6" text-anchor="end" dominant-baseline="central" class="k" fill="#111">0</text>
<text transform="translate(333.6 255.2) scale(.93 1)" font-size="6.6" text-anchor="end" dominant-baseline="central" class="k" fill="#111">−100</text>
<text transform="translate(353.1 266) scale(.93 1)" font-size="6.6" text-anchor="middle" dominant-baseline="central" class="k" fill="#111">0.06</text>
<text transform="translate(367.8 266) scale(.93 1)" font-size="6.6" text-anchor="middle" dominant-baseline="central" class="k" fill="#111">0.06</text>
<text transform="translate(383.4 266) scale(.93 1)" font-size="6.6" text-anchor="middle" dominant-baseline="central" class="k" fill="#111">0.07</text>
<text transform="translate(399.1 266) scale(.93 1)" font-size="6.6" text-anchor="middle" dominant-baseline="central" class="k" fill="#111">0.07</text>
<text transform="translate(419.5 266) scale(.93 1)" font-size="6.6" text-anchor="middle" dominant-baseline="central" class="k" fill="#111">0.12</text>
<text transform="translate(439.6 266) scale(.93 1)" font-size="6.6" text-anchor="middle" dominant-baseline="central" class="k" fill="#111">0.14</text>
<text transform="translate(455.2 266) scale(.93 1)" font-size="6.6" text-anchor="middle" dominant-baseline="central" class="k" fill="#111">0.20</text>
<text transform="translate(471.3 266) scale(.93 1)" font-size="6.6" text-anchor="middle" dominant-baseline="central" class="k" fill="#111">0.22</text>
<text transform="translate(485.8 266) scale(.93 1)" font-size="6.6" text-anchor="middle" dominant-baseline="central" class="k" fill="#111">0.34</text>
<text transform="translate(502.7 266) scale(.93 1)" font-size="6.6" text-anchor="middle" dominant-baseline="central" class="k" fill="#111">0.40</text>
<text transform="translate(523.3 266) scale(.93 1)" font-size="6.6" text-anchor="middle" dominant-baseline="central" class="k" fill="#111">0.41</text>
<text x="440.7" y="278.3" font-size="6.8" font-weight="bold" text-anchor="middle" dominant-baseline="central" class="k" fill="#111">Biochar O:C ratio</text>
<text transform="translate(313.7 202.5) rotate(-90)" font-size="7" font-weight="bold" text-anchor="middle" dominant-baseline="central" class="k" fill="#111">Variation of µm (%)</text>
<text x="308.7" y="148.7" font-size="8.8" dominant-baseline="central" class="k" style="stroke-width:0.55px" fill="#111">(e)</text>
<rect x="335" y="284" width="210.8" height="116.9" fill="#fff"/>
<line x1="335" y1="290.5" x2="545.8" y2="290.5" stroke="#c4c4c4" stroke-width="0.75"/>
<line x1="335" y1="311.5" x2="545.8" y2="311.5" stroke="#c4c4c4" stroke-width="0.75"/>
<line x1="335" y1="332.5" x2="545.8" y2="332.5" stroke="#c4c4c4" stroke-width="0.75"/>
<line x1="335" y1="353.4" x2="545.8" y2="353.4" stroke="#c4c4c4" stroke-width="0.75"/>
<line x1="335" y1="395.4" x2="545.8" y2="395.4" stroke="#c4c4c4" stroke-width="0.75"/>
<path d="M335 284H545.8V400.9" fill="none" stroke="#4a4a4a" stroke-width="0.9"/>
<path d="M335 284V400.9H545.8" fill="none" stroke="#666" stroke-width="1.05"/>
<rect x="349" y="374.1" width="7.8" height="7.3" fill="#1a9c6b" stroke="#0c3023" stroke-width="0.65"/>
<line x1="349" y1="377.7" x2="356.8" y2="377.7" stroke="#0c1a22" stroke-width="0.8"/>
<path d="M367.47 368.6V367.4M365.32 367.4H369.61" stroke="#2a2a2a" stroke-width="0.7" fill="none"/>
<rect x="363.57" y="368.6" width="7.8" height="3.1" fill="#1a9c6b" stroke="#0c3023" stroke-width="0.65"/>
<line x1="363.57" y1="370.2" x2="371.37" y2="370.2" stroke="#0c1a22" stroke-width="0.8"/>
<path d="M396.61 376.5V370.5M394.46 370.5H398.75" stroke="#2a2a2a" stroke-width="0.7" fill="none"/>
<path d="M396.61 383.7V385.4M394.46 385.4H398.75" stroke="#2a2a2a" stroke-width="0.7" fill="none"/>
<rect x="392.71" y="376.5" width="7.8" height="7.2" fill="#1a9c6b" stroke="#0c3023" stroke-width="0.65"/>
<rect x="407.28" y="365" width="7.8" height="9.1" fill="#1a9c6b" stroke="#0c3023" stroke-width="0.65"/>
<line x1="407.28" y1="365.5" x2="415.08" y2="365.5" stroke="#0c1a22" stroke-width="0.8"/>
<path d="M425.75 361.9V360.8M423.61 360.8H427.89" stroke="#2a2a2a" stroke-width="0.7" fill="none"/>
<path d="M425.75 366.8V368.1M423.61 368.1H427.89" stroke="#2a2a2a" stroke-width="0.7" fill="none"/>
<rect x="421.85" y="361.9" width="7.8" height="4.9" fill="#1a9c6b" stroke="#0c3023" stroke-width="0.65"/>
<line x1="421.85" y1="364.1" x2="429.65" y2="364.1" stroke="#0c1a22" stroke-width="0.8"/>
<path d="M454.89 381.4V379.5M452.75 379.5H457.03" stroke="#2a2a2a" stroke-width="0.7" fill="none"/>
<rect x="450.99" y="381.4" width="7.8" height="4" fill="#1a9c6b" stroke="#0c3023" stroke-width="0.65"/>
<line x1="450.99" y1="383.2" x2="458.79" y2="383.2" stroke="#0c1a22" stroke-width="0.8"/>
<path d="M469.46 353.2V309.1M467.31 309.1H471.6" stroke="#2a2a2a" stroke-width="0.7" fill="none"/>
<path d="M469.46 384.5V395.4M467.31 395.4H471.6" stroke="#2a2a2a" stroke-width="0.7" fill="none"/>
<rect x="465.56" y="353.2" width="7.8" height="31.3" fill="#1a9c6b" stroke="#0c3023" stroke-width="0.65"/>
<line x1="335" y1="374.5" x2="545.8" y2="374.5" stroke="#1b3089" stroke-width="1.2"/>
<text x="336.4" y="370.5" font-size="6.7" font-weight="bold" class="c" fill="#1b3089" dominant-baseline="central">Control</text>
<text transform="translate(333.3 290.5) scale(.93 1)" font-size="6.6" text-anchor="end" dominant-baseline="central" class="k" fill="#111">400</text>
<text transform="translate(333.3 311.5) scale(.93 1)" font-size="6.6" text-anchor="end" dominant-baseline="central" class="k" fill="#111">300</text>
<text transform="translate(333.3 332.5) scale(.93 1)" font-size="6.6" text-anchor="end" dominant-baseline="central" class="k" fill="#111">200</text>
<text transform="translate(333.3 353.4) scale(.93 1)" font-size="6.6" text-anchor="end" dominant-baseline="central" class="k" fill="#111">100</text>
<text transform="translate(333.3 374.2) scale(.93 1)" font-size="6.6" text-anchor="end" dominant-baseline="central" class="k" fill="#111">0</text>
<text transform="translate(333.3 395.4) scale(.93 1)" font-size="6.6" text-anchor="end" dominant-baseline="central" class="k" fill="#111">−100</text>
<text transform="translate(350.9 406.9) scale(.93 1)" font-size="6.6" text-anchor="middle" dominant-baseline="central" class="k" fill="#111">0.06</text>
<text transform="translate(365.5 406.9) scale(.93 1)" font-size="6.6" text-anchor="middle" dominant-baseline="central" class="k" fill="#111">0.06</text>
<text transform="translate(380.9 406.9) scale(.93 1)" font-size="6.6" text-anchor="middle" dominant-baseline="central" class="k" fill="#111">0.07</text>
<text transform="translate(395.5 406.9) scale(.93 1)" font-size="6.6" text-anchor="middle" dominant-baseline="central" class="k" fill="#111">0.07</text>
<text transform="translate(410.9 406.9) scale(.93 1)" font-size="6.6" text-anchor="middle" dominant-baseline="central" class="k" fill="#111">0.12</text>
<text transform="translate(424.5 406.9) scale(.93 1)" font-size="6.6" text-anchor="middle" dominant-baseline="central" class="k" fill="#111">0.12</text>
<text transform="translate(441.3 406.9) scale(.93 1)" font-size="6.6" text-anchor="middle" dominant-baseline="central" class="k" fill="#111">0.14</text>
<text transform="translate(455.6 406.9) scale(.93 1)" font-size="6.6" text-anchor="middle" dominant-baseline="central" class="k" fill="#111">0.20</text>
<text transform="translate(470.9 406.9) scale(.93 1)" font-size="6.6" text-anchor="middle" dominant-baseline="central" class="k" fill="#111">0.22</text>
<text transform="translate(484.5 406.9) scale(.93 1)" font-size="6.6" text-anchor="middle" dominant-baseline="central" class="k" fill="#111">0.34</text>
<text transform="translate(499.6 406.9) scale(.93 1)" font-size="6.6" text-anchor="middle" dominant-baseline="central" class="k" fill="#111">0.40</text>
<text transform="translate(514.5 406.9) scale(.93 1)" font-size="6.6" text-anchor="middle" dominant-baseline="central" class="k" fill="#111">0.41</text>
<text x="440.4" y="418.3" font-size="6.8" font-weight="bold" text-anchor="middle" dominant-baseline="central" class="k" fill="#111">Biochar O:C ratio</text>
<text transform="translate(312.7 343.3) rotate(-90)" font-size="6.9" font-weight="bold" text-anchor="middle" dominant-baseline="central" class="k" fill="#111">λ reduction (%)</text>
<text x="310" y="288.3" font-size="8.6" dominant-baseline="central" class="k" style="stroke-width:0.4px" fill="#111">(f)</text>
</svg>
</body>
</html>
